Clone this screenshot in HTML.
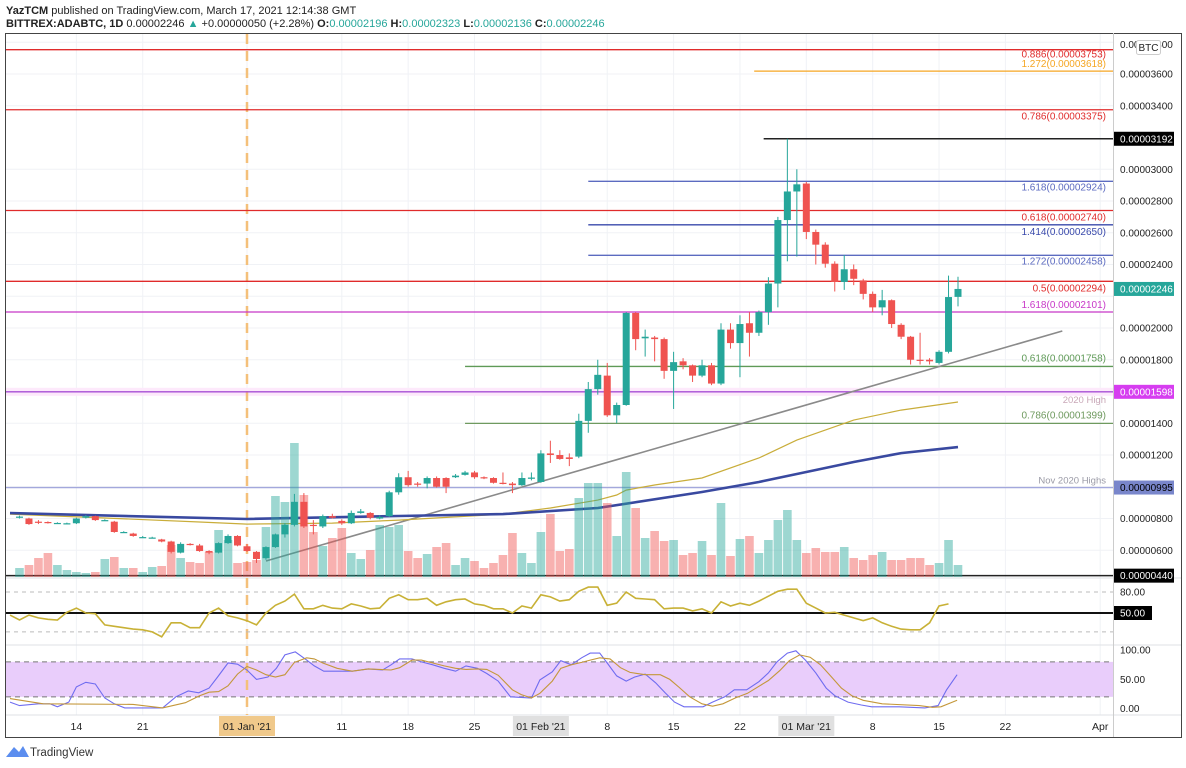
<!DOCTYPE html>
<html><head><meta charset="utf-8"><style>
html,body{margin:0;padding:0;background:#fff;width:1186px;height:768px;overflow:hidden;font-family:"Liberation Sans",sans-serif}
svg text{font-family:"Liberation Sans",sans-serif}
</style></head><body>
<svg id="chart" width="1186" height="768" viewBox="0 0 1186 768" xmlns="http://www.w3.org/2000/svg">
<text x="6" y="14" font-size="11" fill="#222"><tspan font-weight="bold">YazTCM</tspan> published on TradingView.com, March 17, 2021 12:14:38 GMT</text>
<text x="6" y="27" font-size="11" fill="#222"><tspan font-weight="bold">BITTREX:ADABTC, 1D</tspan> 0.00002246 <tspan fill="#26a69a">▲</tspan> +0.00000050 (+2.28%) <tspan font-weight="bold">O:</tspan><tspan fill="#26a69a">0.00002196</tspan> <tspan font-weight="bold">H:</tspan><tspan fill="#26a69a">0.00002323</tspan> <tspan font-weight="bold">L:</tspan><tspan fill="#26a69a">0.00002136</tspan> <tspan font-weight="bold">C:</tspan><tspan fill="#26a69a">0.00002246</tspan></text>
<g id="grid"></g>
<g id="bands"></g>
<g id="levels"></g>
<g id="mas"></g>
<g id="candles"></g>
<g id="volume"></g>
<g id="ind"></g>
<g id="axis"></g>
<rect x="5.5" y="33.5" width="1176" height="704" fill="none" stroke="#444" stroke-width="1"/>
<line x1="1113.5" y1="33" x2="1113.5" y2="737" stroke="#ccc"/>
<g>
<path d="M6 757 L14 747 L19 752 L23 746 L29 757 Z" fill="#5b8def"/>
<text x="30" y="756" font-size="11.5" fill="#333">TradingView</text>
</g>
</svg>
<script>
// ---- data ----
const startDay = -24;
const opens  = [805,800,780,778,772,770,770,805,815,790,780,715,705,683,680,668,655,585,640,630,595,585,645,690,625,590,550,
620,700,760,905,760,750,815,785,770,835,835,800,815,965,1060,1020,1020,1055,1055,1060,1075,1090,1060,1055,1025,1020,1010,1050,
1030,1210,1200,1185,1190,1415,1615,1700,1450,1515,2095,1935,1940,1930,1730,1790,1765,1700,1765,1650,1990,1905,2030,1970,
2100,2280,2680,2860,2910,2605,2525,2405,2290,2370,2300,2215,2130,2175,2020,1945,1800,1800,1780,1850,2196];
const highs  = [818,805,790,782,776,774,805,822,818,795,785,720,710,690,685,672,660,650,645,640,600,650,700,695,640,595,625,
705,770,955,960,790,825,830,795,850,860,840,820,975,1085,1100,1030,1065,1065,1060,1080,1100,1100,1065,1060,1090,1030,1090,1090,
1230,1290,1230,1210,1460,1660,1800,1780,1530,2100,2100,1990,1950,1940,1850,1810,1770,1800,1780,2030,2030,2080,2100,2110,
2320,2700,3192,3000,2920,2620,2540,2420,2460,2400,2310,2230,2240,2180,2030,1950,1970,1810,1860,2330,2323];
const lows   = [800,760,765,768,768,766,765,800,785,785,710,710,685,678,676,650,580,580,630,590,575,580,640,625,590,520,540,
615,680,750,740,700,740,800,760,765,830,795,795,810,950,1000,1000,990,995,960,1055,1070,1050,1048,1020,1015,960,1005,1040,
1025,1150,1170,1130,1180,1340,1580,1440,1400,1510,1860,1820,1790,1680,1490,1740,1660,1690,1640,1640,1870,1690,1820,1950,
2020,2130,2420,2450,2560,2400,2380,2230,2240,2270,2180,2100,2080,2000,1930,1770,1770,1770,1770,1840,2136];
const closes = [812,765,775,773,772,770,800,815,790,790,715,715,690,683,680,655,590,640,635,595,585,645,690,630,595,545,620,
700,760,905,750,755,815,805,770,835,845,805,810,965,1060,1010,1018,1055,1000,1000,1070,1090,1060,1055,1025,1022,1010,1055,1058,
1210,1200,1175,1175,1415,1615,1705,1450,1515,2095,1930,1945,1930,1730,1785,1765,1700,1765,1650,1990,1905,2025,1970,2100,
2280,2680,2860,2905,2605,2525,2405,2290,2370,2310,2215,2130,2175,2025,1945,1800,1795,1790,1850,2195,2246];
const volumes = [90,120,190,240,120,70,50,40,50,180,200,90,90,50,100,110,320,190,150,140,250,470,370,140,150,170,500,
810,750,1340,820,450,310,390,490,240,180,270,520,500,520,260,190,230,300,340,120,190,160,90,140,220,440,240,140,450,630,260,
280,790,940,940,740,410,1050,690,390,460,360,370,220,240,360,220,740,210,380,410,240,
370,570,670,370,240,290,250,250,300,190,170,220,250,170,170,190,190,120,140,370,120];
const ma200Days = [-25,0,16,27,37,48,54,59,64,69,75];
const ma200Vals = [834,797,816,828,866,967,1030,1093,1156,1212,1250];
const ma50Days = [-25,-15,-5,0,9,16,27,32,37,39,40,43,48,54,58,64,69,75];
const ma50Vals = [828,803,778,765,771,790,828,866,916,948,979,1011,1055,1181,1294,1420,1483,1534];
const trendDays = [2,86];
const trendVals = [532,1981];
const rsiDays = [-25,-24,-23,-22,-21,-20,-19,-18,-17,-16,-15,-14,-13,-12,-11,-10,-9,-8,-7,-6,-5,-4,-3,-2,-1,0,1,2,3,4,5,6,7,8,9,10,11,12,13,14,15,16,17,18,19,20,21,22,23,24,25,26,27,28,29,30,31,32,33,34,35,36,37,38,39,40,41,42,43,44,45,46,47,48,49,50,51,52,53,54,55,56,57,58,59,60,61,62,63,64,65,66,67,68,69,70,71,72,73,74,75];
const rsiVals = [47,40,47,43,41,40,51,57,50,49,33,31,29,27,26,23,16,36,36,29,29,50,57,46,43,39,33,50,61,67,77,56,56,61,57,56,63,60,56,57,71,76,69,69,71,61,66,69,70,63,61,56,56,50,60,57,76,73,67,69,81,87,87,61,64,80,71,70,69,56,57,57,53,56,50,66,60,64,61,67,74,81,84,84,64,57,50,51,47,43,39,43,36,31,27,26,26,36,60,63];
const kDays = [-25,-24,-22,-20.8,-20,-18.8,-18,-17,-16,-15,-14,-12.9,-12,-8.9,-7.5,-6.2,-5.1,-4,-3.1,-2,-1,0,1,2.2,3.1,4,5.1,6.3,7.1,8.1,9.5,11.1,12.8,14.3,15.2,16.1,17.4,18.4,19.6,20.8,22,23.1,24.3,25.3,26.5,27.8,28.9,30,30.9,32.2,33.1,34.2,35.3,36.2,37.2,38,39,40,40.9,42,43.1,44.1,45.1,46.1,48.1,49.1,50.4,51.4,52.7,54,55,55.9,57,57.9,58.9,60,61.1,62,63.4,64.8,65.9,68.8,71.5,72.9,73.8,74.9];
const kVals = [11,5,8,8,3,11,37,45,42,18,8,1,1,1,20,30,27,35,54,78,76,66,50,54,69,92,97,83,73,64,64,64,68,66,75,85,85,80,75,69,64,73,69,60,47,20,19,18,49,63,82,75,87,95,95,78,56,47,54,59,44,27,11,3,3,11,20,32,32,46,61,80,95,99,83,61,35,22,11,6,3,3,1,5,32,58];
const dDays = [-25,-21.5,-12,-8.9,-6.5,-5,-4,-3,-2,-1,0,1,2,3,4,5,6.3,7.1,8,9.5,11.1,12.8,15.2,16.1,17.4,18.4,19.6,20.8,22,23.1,24.3,25.3,26.5,28,28.9,30,30.9,32.2,33.1,34.2,35.3,36.2,37.2,38.3,39.4,40.4,42,43.6,44.6,45.6,46.7,48,49.1,50.2,51.5,52.8,54,55,56.2,57.2,58.3,59.4,60.5,61.6,62.7,63.8,65,67,70.9,72.3,73.2,74.9];
const dVals = [17,8,7,1,10,22,28,29,39,59,72,66,58,54,58,79,87,85,78,69,64,68,66,70,83,83,78,73,69,67,68,67,57,32,24,18,26,47,69,75,79,83,87,85,70,62,58,58,50,36,20,8,4,8,18,26,38,48,65,82,92,88,75,55,35,22,14,8,5,2,3,14,29];
const tickDays = [-18,-11,0,10,17,24,31,38,45,52,59,66,73,80,90];
const tickLabels = ["14","21","01 Jan '21","11","18","25","01 Feb '21","8","15","22","01 Mar '21","8","15","22","Apr"];
const priceTicks = [3600,3400,3000,2800,2600,2400,2000,1800,1400,1200,800,600];
const levelPrices = [3753,3618,3375,3192,2924,2740,2650,2458,2294,2101,1758,1598,1399,995,440];
const levelNames = ["0.886(0.00003753)","1.272(0.00003618)","0.786(0.00003375)","","1.618(0.00002924)","0.618(0.00002740)","1.414(0.00002650)","1.272(0.00002458)","0.5(0.00002294)","1.618(0.00002101)","0.618(0.00001758)","","0.786(0.00001399)","",""];
const levelStartDays = [-26,53.5,-26,54.5,36,-26,36,36,-26,-26,23,-26,23,-26,-26];
const levelColors = ["#e02b2b","#f5a623","#e02b2b","#222","#5c6bc0","#e02b2b","#3949ab","#5c6bc0","#e02b2b","#c837c8","#5f9a57","#a64fd6","#6f9a5f","#a3a8dc","#222"];
const levelTextDy = [8,-4,10,0,9,10,10,9,10,-4,-5,0,-5,0,0];

// ---- axes ----
const xOf = d => 247 + 9.48*d;
const yOf = p => 328 - (p-2000)*0.15875;
const VOLBASE = 577, VOLK = 0.1;
const rsiY = v => 613 - (v-50)*0.7;
const stY = v => 708.5 - v*0.583;
const NS = "http://www.w3.org/2000/svg";
function mk(tag, attrs, parent){ const e=document.createElementNS(NS,tag); for(const k in attrs) e.setAttribute(k,attrs[k]); parent.appendChild(e); return e; }
const G = id => document.getElementById(id);

tickDays.forEach(d=>{
  const l=mk('line',{x1:xOf(d),x2:xOf(d),y1:34,y2:715,stroke:'#f0f2f6'},G('grid'));
  
  
});
priceTicks.concat([3800,2200,1600,1000]).forEach(p=>{
  const l=mk('line',{x1:6,x2:1113,y1:yOf(p),y2:yOf(p),stroke:'#f0f2f6'},G('grid'));
  
  
});
[578,645,715].forEach(y=>{
  const l=mk('line',{x1:6,x2:1182,y1:y,y2:y,stroke:'#dfe1e6'},G('grid'));
  
  
});

const pb=mk('rect',{x:6,y:yOf(1598)-4,width:1107,height:8,fill:'#fde9fb'},G('bands'));


const sb=mk('rect',{x:6,y:stY(80),width:1107,height:stY(20)-stY(80),fill:'#e9cdfb'},G('bands'));


const jan=mk('line',{x1:xOf(0),x2:xOf(0),y1:34,y2:715,stroke:'#f4c07a','stroke-width':2.5,'stroke-dasharray':'10 7'},G('bands'));



levelPrices.forEach((p,i)=>{
  const y=yOf(p);
  const l=mk('line',{x1:Math.max(6,xOf(levelStartDays[i])),x2:1113,y1:y,y2:y,stroke:levelColors[i],'stroke-width':(i==3||i==14)?1.5:1.3},G('levels'));
  
  
  if(levelNames[i]){
    const t=mk('text',{x:1106,y:y+levelTextDy[i],'text-anchor':'end','font-size':10,fill:levelColors[i]},G('levels'));
    t.textContent=levelNames[i];
    
    
  }
});
const t1=mk('text',{x:1106,y:yOf(1598)+11,'text-anchor':'end','font-size':9.5,fill:'#c9a8b8'},G('levels'));
t1.textContent='2020 High';


const t2=mk('text',{x:1106,y:yOf(995)-4,'text-anchor':'end','font-size':9.5,fill:'#9a9aa6'},G('levels'));
t2.textContent='Nov 2020 Highs';



function poly(days,vals,fy){ return days.map((d,i)=>xOf(d).toFixed(1)+','+fy(vals[i]).toFixed(1)).join(' '); }
const tl=mk('polyline',{points:poly(trendDays,trendVals,yOf),fill:'none',stroke:'#8a8a8a','stroke-width':1.6},G('mas'));


const m50=mk('polyline',{points:poly(ma50Days,ma50Vals,yOf),fill:'none',stroke:'#c9ad3a','stroke-width':1.2},G('mas'));


const m200=mk('polyline',{points:poly(ma200Days,ma200Vals,yOf),fill:'none',stroke:'#3949a0','stroke-width':2.6},G('mas'));



closes.forEach((c,i)=>{
  const d=startDay+i, x=xOf(d), o=opens[i], up=c>=o;
  const col=up?'#26a69a':'#ef5350';
  const w=mk('line',{x1:x,x2:x,y1:yOf(highs[i]),y2:yOf(lows[i]),stroke:col,'stroke-width':1},G('candles'));
  
  
  const yt=yOf(Math.max(o,c)), yb=yOf(Math.min(o,c));
  const b=mk('rect',{x:x-3.5,y:yt,width:7,height:Math.max(1.2,yb-yt),fill:col},G('candles'));
  
  
});
volumes.forEach((v,i)=>{
  const x=xOf(startDay+i), up=closes[i]>=opens[i], h=v*VOLK;
  const r=mk('rect',{x:x-4.3,y:VOLBASE-h,width:8.6,height:h,fill:up?'#26a69a':'#ef5350','fill-opacity':0.45},G('volume'));
  
  
});

[80,23].forEach(v=>{
  const l=mk('line',{x1:6,x2:1113,y1:rsiY(v),y2:rsiY(v),stroke:'#bbb','stroke-dasharray':'4 4'},G('ind'));
  
  
});
const r50=mk('line',{x1:6,x2:1113,y1:rsiY(50),y2:rsiY(50),stroke:'#111','stroke-width':2},G('ind'));


const rl=mk('polyline',{points:poly(rsiDays,rsiVals,rsiY),fill:'none',stroke:'#c8b136','stroke-width':1.6},G('ind'));


[80,20].forEach(v=>{
  const l=mk('line',{x1:6,x2:1113,y1:stY(v),y2:stY(v),stroke:'#777','stroke-dasharray':'5 4'},G('ind'));
  
  
});
const kl=mk('polyline',{points:poly(kDays,kVals,stY),fill:'none',stroke:'#6f6cf0','stroke-width':1.1},G('ind'));


const dl=mk('polyline',{points:poly(dDays,dVals,stY),fill:'none',stroke:'#c4973a','stroke-width':1.1},G('ind'));



function axisLabel(y,txt,bg,fg,w){
  if(bg){
    const r=mk('rect',{x:1114,y:y-7,width:w||60,height:14,fill:bg},G('axis'));
    
    
  }
  const t=mk('text',{x:1120,y:y+3.5,'font-size':10,fill:fg},G('axis'));
  t.textContent=txt;
  
  
}
priceTicks.forEach(p=>axisLabel(yOf(p),'0.0000'+String(p).padStart(4,'0'),null,'#222'));
axisLabel(yOf(3800)+2,'0.00003800',null,'#222');
const btc=mk('rect',{x:1136.5,y:40.5,width:24,height:14,rx:2,fill:'#fff',stroke:'#ccc'},G('axis'));


const bt=mk('text',{x:1148.5,y:51,'font-size':10,fill:'#222','text-anchor':'middle'},G('axis'));
bt.textContent='BTC';


axisLabel(yOf(3192),'0.00003192','#000','#fff');
axisLabel(yOf(2246),'0.00002246','#26a69a','#fff');
axisLabel(yOf(1598),'0.00001598','#d63df0','#fff');
axisLabel(yOf(995),'0.00000995','#7986cb','#000');
axisLabel(yOf(440),'0.00000440','#000','#fff');
axisLabel(rsiY(80),'80.00',null,'#222');
axisLabel(rsiY(50),'50.00','#000','#fff',38);
axisLabel(stY(100),'100.00',null,'#222');
axisLabel(stY(50),'50.00',null,'#222');
axisLabel(stY(0),'0.00',null,'#222');

tickDays.forEach((d,i)=>{
  const x=xOf(d), lab=tickLabels[i], big=lab.length>4;
  if(big){
    const r=mk('rect',{x:x-28,y:716,width:56,height:20,fill:d===0?'#f0c98b':'#e0e0e0'},G('axis'));
    
    
  }
  const t=mk('text',{x:x,y:730,'font-size':10.5,'text-anchor':'middle',fill:'#222'},G('axis'));
  t.textContent=lab;
  
  
});
</script>
</body></html>
